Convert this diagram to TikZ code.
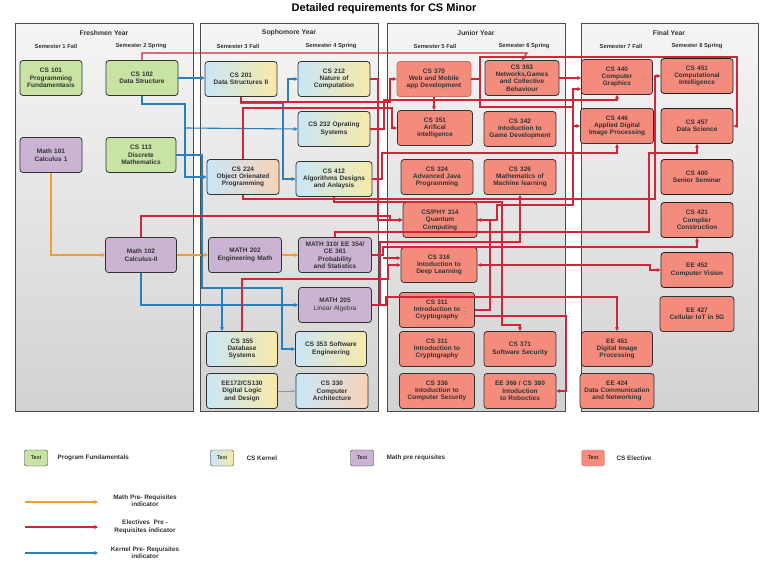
\documentclass[tikz,border=0pt]{standalone}
\usepackage{fontspec}
\setmainfont{Liberation Sans}
\usetikzlibrary{arrows.meta}
\definecolor{gfill}{HTML}{C8E3A4}
\definecolor{pfill}{HTML}{CBB4D3}
\definecolor{kblue}{HTML}{C9E6F7}
\definecolor{kyel}{HTML}{F7EAA8}
\definecolor{kpink}{HTML}{F8D3B8}
\definecolor{rfill}{HTML}{F48C7E}
\definecolor{rline}{HTML}{D0263A}
\definecolor{bline}{HTML}{2A7FBF}
\definecolor{oline}{HTML}{F29B30}
\definecolor{txtc}{HTML}{333333}
\tikzset{
 panel/.style={draw=gray!60!black,line width=0.8pt,top color=gray!8,bottom color=gray!35},
 box/.style={rounded corners=3pt,draw=gray!40!black,line width=0.8pt,minimum width=#1,text width=#1-8,minimum height=35,inner sep=1pt,align=center,font=\bfseries\fontsize{6.5}{7.4}\selectfont,text=txtc},
 gbox/.style={box=72,fill=gfill},
 pbox/.style={box=72,fill=pfill},
 kbox/.style={box=72,left color=kblue,right color=kyel},
 rbox/.style={box=74,fill=rfill,draw=rfill!80!black},
 fbox/.style={box=72,fill=rfill,draw=gray!25!black},
 ptitle/.style={font=\bfseries\fontsize{6.8}{8}\selectfont,text=txtc},
 sem/.style={font=\bfseries\fontsize{5.8}{7}\selectfont,text=txtc},
 rl/.style={draw=rline,line width=1.1pt,-{Stealth[length=4pt,width=4pt]}},
 bl/.style={draw=bline,line width=1.1pt,-{Stealth[length=4pt,width=4pt]}},
 ol/.style={draw=oline,line width=1.1pt,-{Stealth[length=4pt,width=4pt]}},
 leg/.style={rounded corners=2pt,draw=gray!40!black,minimum width=23,minimum height=16,inner sep=0pt,font=\fontsize{5.5}{6}\selectfont},
 legt/.style={font=\bfseries\fontsize{6.4}{7}\selectfont,text=txtc,anchor=west},
 legl/.style={font=\bfseries\fontsize{6.4}{7.4}\selectfont,text=txtc,align=center},
}
\begin{document}
\hyphenpenalty=10000 \exhyphenpenalty=10000
\begin{tikzpicture}[x=1pt,y=-1pt]
\useasboundingbox[fill=white] (0,0) rectangle (768,564);
\node[font=\bfseries\fontsize{11}{13}\selectfont] (title) at (384,9) {Detailed requirements for CS Minor};
% panels
\draw[panel] (15,23) rectangle (193,411);
\draw[panel] (200,23) rectangle (378,411);
\draw[panel] (387,23) rectangle (565,411);
\draw[panel] (581,23) rectangle (758,411);
\node[ptitle] (y1) at (104,33) {Freshmen Year};
\node[ptitle] (y2) at (289,33) {Sophomore Year};
\node[ptitle] (y3) at (476,33) {Junior Year};
\node[ptitle] (y4) at (669,33) {Final Year};
\node[sem] (s1) at (56,46) {Semester 1 Fall};
\node[sem] (s2) at (141,46) {Semester 2 Spring};
\node[sem] (s3) at (238,46) {Semester 3 Fall};
\node[sem] (s4) at (331,46) {Semester 4 Spring};
\node[sem] (s5) at (435,46) {Semester 5 Fall};
\node[sem] (s6) at (524,46) {Semester 6 Spring};
\node[sem] (s7) at (621,46) {Semester 7 Fall};
\node[sem] (s8) at (697,46) {Semester 8 Spring};
% freshmen
\node[gbox,box=62] (cs101) at (51,78) {CS 101\\Programming Fundamentasis};
\node[gbox] (cs102) at (142,78) {CS 102\\Data Structure};
\node[pbox,box=62] (m101) at (51,155) {Math 101\\Calculus 1};
\node[gbox,box=70] (cs113) at (141,155) {CS 113\\Discrete Mathematics};
\node[pbox,box=71] (m102) at (141,255) {Math 102\\Calculus-II};
% sophomore
\node[kbox] (cs201) at (241,79) {CS 201\\Data Structures II};
\node[kbox] (cs212) at (334,79) {CS 212\\Nature of\\Computation};
\node[kbox] (cs232) at (334,129) {CS 232 Oprating Systems};
\node[box=72,left color=kblue,right color=kpink] (cs224) at (243,177) {CS 224\\Object Orienated Programming};
\node[kbox,box=76] (cs412) at (334,179) {CS 412\\Algorithms Designs and Anlaysis};
\node[pbox,box=73] (m202) at (245,255) {MATH 202\\Engineering Math};
\node[pbox,box=73] (m310) at (335,255) {MATH 310/ EE 354/\\CE 361\\Probability and Statistics};
\node[pbox,box=73] (m205) at (335,305) {MATH 205\\{\mdseries Linear Algebra}};
\node[kbox,box=71] (cs355) at (242,349) {CS 355\\Database\\Systems};
\node[kbox,box=71] (cs353) at (331,349) {CS 353 Software Engineering};
\node[kbox,box=71] (ee172) at (242,391) {EE172/CS130\\Digital Logic and Design};
\node[box=72,left color=kblue,right color=kpink] (cs330) at (332,391) {CS 330\\Computer Architecture};
% junior
\node[rbox] (cs370) at (434,79) {CS 370\\Web and Mobile app Development};
\node[rbox,box=74] (cs363) at (522,78) {CS 363\\Networks,Games and Collective Behaviour};
\node[rbox,box=75] (cs351) at (435,128) {CS 351\\Arifical\\intelligence};
\node[rbox,box=72] (cs342) at (520,129) {CS 342\\Intoduction to Game Development};
\node[rbox,box=72] (cs324) at (437,177) {CS 324\\Advanced Java Programming};
\node[rbox,box=72] (cs326) at (520,177) {CS 326\\Mathematics of Machine learning};
\node[fbox,box=74] (cs314) at (440,220) {CS/PHY 314\\Quantum\\Computing};
\node[rbox,box=76] (cs316) at (439,265) {CS 316\\Intoduction to Deep Learning};
\node[rbox,box=75] (cs311a) at (437,310) {CS 311\\Introduction to Cryptography};
\node[rbox,box=75] (cs311b) at (437,349) {CS 311\\Introduction to Cryptography};
\node[rbox,box=72] (cs371) at (520,349) {CS 371\\Software Security};
\node[rbox,box=75] (cs336) at (437,391) {CS 336\\Intoduction to Computer Security};
\node[rbox,box=72] (ee366) at (520,391) {EE 366 / CS 380\\Intoduction to Robocties};
% final
\node[fbox,box=71] (cs440) at (617,77) {CS 440\\Computer\\Graphics};
\node[fbox] (cs451) at (697,76) {CS 451\\Computational Intelligence};
\node[fbox,box=73] (cs446) at (617,126) {CS 446\\Applied Digital Image Processing};
\node[fbox] (cs457) at (697,126) {CS 457\\Data Science};
\node[fbox] (cs400) at (697,177) {CS 400\\Senior Seminar};
\node[fbox] (cs421) at (697,220) {CS 421\\Complier Construction};
\node[fbox] (ee452) at (697,270) {EE 452\\Computer Vision};
\node[fbox,box=74] (ee427) at (697,314) {EE 427\\Cellular IoT in 5G};
\node[fbox,box=71] (ee451) at (617,349) {EE 451\\Digital Image Processing};
\node[fbox,box=74] (ee424) at (617,391) {EE 424\\Data Communication and Networking};
% orange
\draw[ol] (m101.south) |- (m102.west);
\draw[ol] (m102.east) -- (m202.west);
\draw[ol] (m202.east) -- (m310.west);
\draw[draw=pfill!80!black,line width=0.8pt,-{Stealth[length=4pt]}] (ee172.east) -- (cs330.west);
% blue
\draw[bl] (cs102.east) -- (cs102.east -| cs201.west);
\draw[bl] (cs102.south) |- (185,104) |- (cs224.west);
\draw[bl] (185,128) -- (cs232.west);
\draw[bl] (cs113.east) -| (202,288) -| (282,330) |- (cs353.west);
\draw[bl] (222,288) -- (cs355.north -| 222,0);
\draw[bl] (cs201.south) |- (283,103) |- (cs412.west);
\draw[bl] (288,103) |- (cs212.west);
\draw[bl] (m102.south) |- (m205.west);
% red
\draw[rl] (cs102.north) |- (527,53) -- (cs363.north);
\draw[rl] (cs212.east) -| (378,200) |- (cs314.west);
\draw[rl] (cs201.south) |- (390,102) |- (cs370.west);
\draw[rl] (cs224.north) |- (392,108) |- (cs351.west);
\draw[rl] (cs224.south) |- (655,199) |- (cs451.west);
\draw[rl] (cs370.south) -- (cs370.south |- cs351.north);
\draw[rl] (cs363.east) -- (cs363.east -| cs440.west);
\draw[rl] (cs412.east) -| (382,153) -| (cs446.south);
\draw[rl] (cs232.east) -| (384,100) -| (cs440.south);
\draw[rl] (cs370.east) -| (480,57) -| (737,126) -- (cs457.east);
\draw[rl] (480,79) |- (573,107) |- (cs446.west);
\draw[rl] (cs314.east) -| (497,205) -| (573,89) -- (cs440.west |- 0,89);
\draw[rl] (m310.north) |- (649,232) |- (697,153) -- (cs457.south);
\draw[rl] (m102.north) |- (390,216) |- (cs314.west);
\draw[rl] (m205.east) -| (380,242) -| (cs326.south);
\draw[rl] (m310.east) -| (383,247) -| (cs421.south);
\draw[rl] (383,258) -- (cs316.west |- 0,258);
\draw[rl,{Stealth[length=4pt,width=4pt]}-{Stealth[length=4pt,width=4pt]}] (cs316.east) -| (650,270) -- (ee452.west);
\draw[rl] (cs311a.east) -| (490,220) -- (cs314.east |- 0,220);
\draw[rl] ([yshift=-6pt]cs311a.east) -| (566,391) -- (ee366.east);
\draw[rl] (cs412.south) |- (502,202) |- (520,325) -- (cs371.north);
\draw[rl] (m205.east) -| (386,297) -| (ee451.north);
\draw[rl] (cs355.north) |- (388,279) |- (cs316.west);
% legend
\node[leg,fill=gfill] (lg) at (36,458) {Text};
\node[legt] (lgt) at (54,458) {Program Fundamentals};
\node[leg,left color=kblue,right color=kyel] (lk) at (222,458) {Text};
\node[legt] (lkt) at (243,458) {CS Kernel};
\node[leg,fill=pfill] (lp) at (362,458) {Text};
\node[legt] (lpt) at (383,458) {Math pre requisites};
\node[leg,fill=rfill,draw=rfill] (lr) at (593,458) {Text};
\node[legt] (lrt) at (613,458) {CS Elective};
\coordinate (oa) at (25,502); \coordinate (ob) at (98,502);
\coordinate (ra) at (25,527); \coordinate (rb) at (98,527);
\coordinate (ba) at (25,553); \coordinate (bb) at (98,553);
\draw[ol] (oa) -- (ob);
\draw[rl] (ra) -- (rb);
\draw[bl] (ba) -- (bb);
\node[legl] (lo) at (145,501) {Math Pre- Requisites\\indicator};
\node[legl] (lre) at (145,527) {Electives~ Pre -\\Requisites indicator};
\node[legl] (lb) at (145,553) {Kernel Pre- Requisites\\indicator};
\end{tikzpicture}
\end{document}
